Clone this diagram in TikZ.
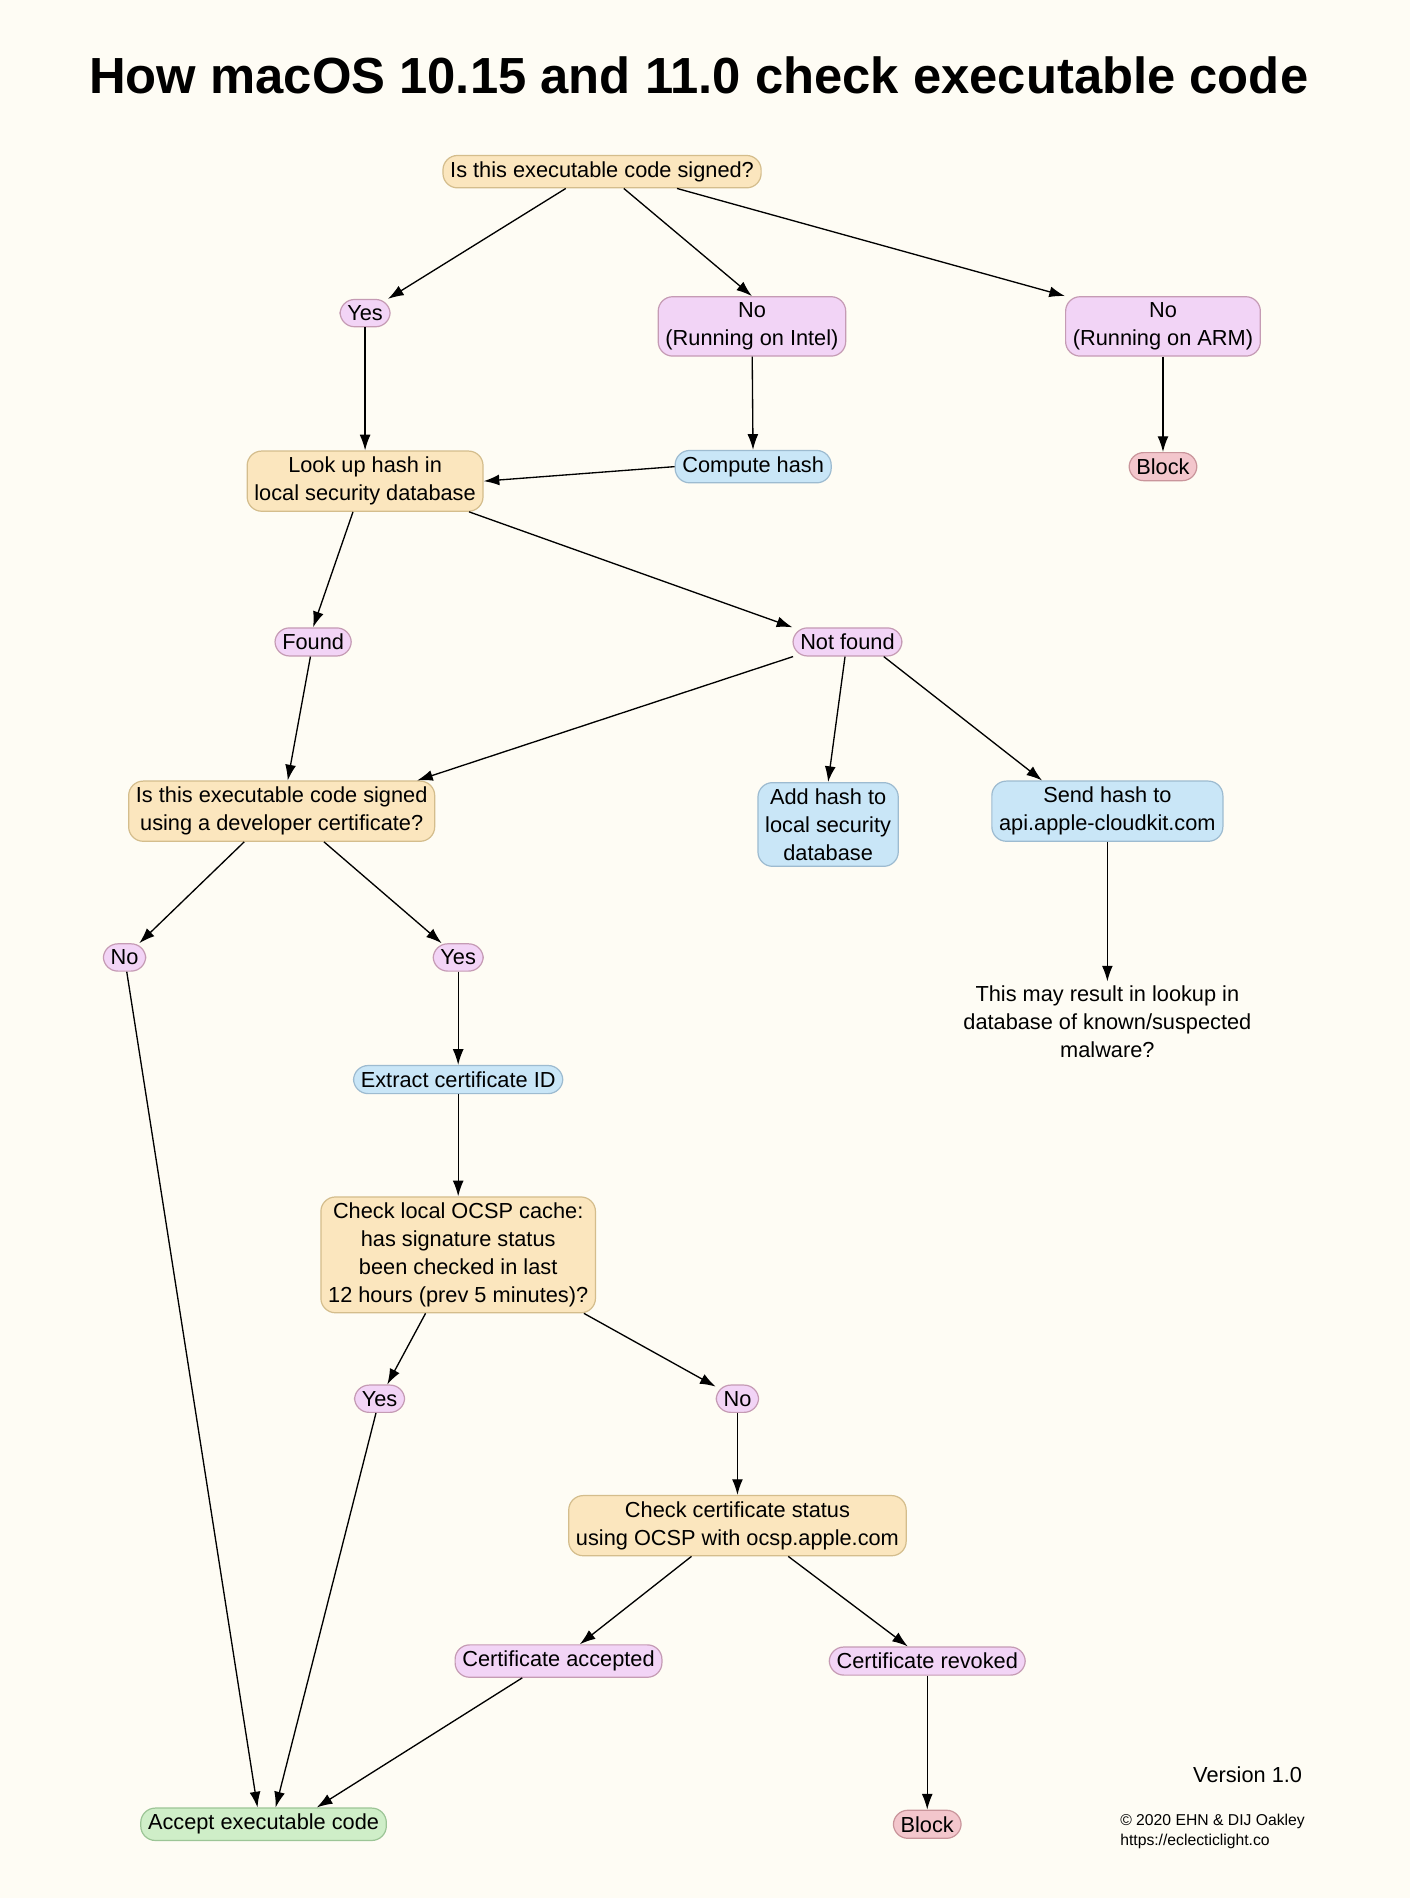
\documentclass[tikz,border=0pt]{standalone}
\usepackage{fontspec}
\setmainfont{Liberation Sans}
\usetikzlibrary{arrows.meta}
\definecolor{paper}{HTML}{FEFCF4}
\definecolor{askfill}{HTML}{FBE6BE}\definecolor{askdraw}{HTML}{D4BD8C}
\definecolor{ansfill}{HTML}{F2D4F6}\definecolor{ansdraw}{HTML}{C59BB4}
\definecolor{actfill}{HTML}{C9E6F7}\definecolor{actdraw}{HTML}{9DBBD0}
\definecolor{stopfill}{HTML}{F3C6CC}\definecolor{stopdraw}{HTML}{C9959B}
\definecolor{okfill}{HTML}{CFEEC8}\definecolor{okdraw}{HTML}{9CC596}
\tikzset{
  box/.style={rounded corners=12pt, line width=1pt, align=center,
    font=\fontsize{18}{23}\selectfont, inner xsep=6pt, inner ysep=5pt},
  ask/.style={box, fill=askfill, draw=askdraw},
  ans/.style={box, fill=ansfill, draw=ansdraw},
  act/.style={box, fill=actfill, draw=actdraw},
  stop/.style={box, fill=stopfill, draw=stopdraw},
  ok/.style={box, fill=okfill, draw=okdraw},
  arr/.style={-{Latex[length=13pt,width=9pt]}, line width=1.1pt},
}
\begin{document}
\begin{tikzpicture}[x=1pt,y=-1pt]
  \useasboundingbox[fill=paper] (0,0) rectangle (1166,1570);
  \node[font=\bfseries\fontsize{42}{48}\selectfont] (title) at (578,62) {How macOS 10.15 and 11.0 check executable code};

  \node[ask] (signed) at (498,142) {Is this executable code signed?};
  \node[ans] (yesA) at (302,259) {Yes};
  \node[ans] (intel) at (622,270) {No\\(Running on Intel)};
  \node[ans] (arm) at (962,270) {No\\(Running on ARM)};
  \node[act] (compute) at (623,386) {Compute hash};
  \node[stop] (blockA) at (962,386) {Block};
  \node[ask] (lookup) at (302,398) {Look up hash in\\local security database};
  \node[ans] (found) at (259,531) {Found};
  \node[ans] (notfound) at (701,531) {Not found};
  \node[ask] (devcert) at (233,671) {Is this executable code signed\\using a developer certificate?};
  \node[act] (addhash) at (685,682) {Add hash to\\local security\\database};
  \node[act] (send) at (916,671) {Send hash to\\api.apple-cloudkit.com};
  \node[ans] (noB) at (103,792) {No};
  \node[ans] (yesB) at (379,792) {Yes};
  \node[align=center, font=\fontsize{18}{23}\selectfont] (malware) at (916,845) {This may result in lookup in\\database of known/suspected\\malware?};
  \node[act] (extract) at (379,893) {Extract certificate ID};
  \node[ask] (cache) at (379,1038) {Check local OCSP cache:\\has signature status\\been checked in last\\12 hours (prev 5 minutes)?};
  \node[ans] (yesC) at (314,1157) {Yes};
  \node[ans] (noC) at (610,1157) {No};
  \node[ask] (ocsp) at (610,1262) {Check certificate status\\using OCSP with ocsp.apple.com};
  \node[ans] (accepted) at (462,1374) {Certificate accepted};
  \node[ans] (revoked) at (767,1374) {Certificate revoked};
  \node[ok] (accept) at (218,1509) {Accept executable code};
  \node[stop] (blockB) at (767,1509) {Block};
  \node[font=\fontsize{18}{22}\selectfont] (version) at (1032,1468) {Version 1.0};
  \node[align=left, font=\fontsize{13}{17}\selectfont] (credit) at (1003,1515) {© 2020 EHN \& DIJ Oakley\\https://eclecticlight.co};

  % top level
  \draw[arr] ([xshift=-30]signed.south) -- (yesA);
  \draw[arr] ([xshift=18]signed.south) -- (intel.north);
  \draw[arr] ([xshift=62]signed.south) -- (arm.north west);
  \draw[arr] (yesA) -- (lookup.north);
  \draw[arr] (intel) -- (compute);
  \draw[arr] (arm) -- (blockA);
  \draw[arr] (compute.west) -- (lookup.east);
  % hash lookup
  \draw[arr] ([xshift=-10]lookup.south) -- (found.north);
  \draw[arr] ([xshift=86]lookup.south) -- (notfound.north west);
  \draw[arr] (found) -- ([xshift=5]devcert.north);
  \draw[arr] ([xshift=-45]notfound.south) -- ([xshift=112]devcert.north);
  \draw[arr] ([xshift=-2]notfound.south) -- (addhash.north);
  \draw[arr] ([xshift=30]notfound.south) -- ([xshift=-54]send.north);
  \draw[arr] (send) -- (malware);
  % developer certificate
  \draw[arr] ([xshift=-31]devcert.south) -- (noB);
  \draw[arr] ([xshift=35]devcert.south) -- (yesB);
  \draw[arr] (noB) -- ([xshift=-5]accept.north);
  \draw[arr] (yesB) -- (extract);
  \draw[arr] (extract) -- (cache);
  \draw[arr] ([xshift=-27]cache.south) -- (yesC);
  \draw[arr] ([xshift=104]cache.south) -- (noC);
  \draw[arr] (yesC) -- ([xshift=10]accept.north);
  \draw[arr] (noC) -- (ocsp);
  \draw[arr] ([xshift=-38]ocsp.south) -- (accepted);
  \draw[arr] ([xshift=42]ocsp.south) -- (revoked);
  \draw[arr] ([xshift=-30]accepted.south) -- ([xshift=44]accept.north);
  \draw[arr] (revoked) -- (blockB);
\end{tikzpicture}
\end{document}
